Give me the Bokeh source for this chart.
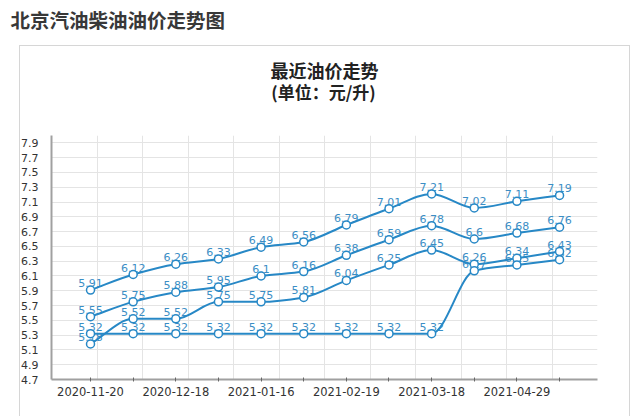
from bokeh.plotting import figure
from bokeh.models import Range1d, FixedTicker, ColumnDataSource, InlineStyleSheet
from bokeh.embed import file_html
from bokeh.resources import INLINE
from bokeh.core.properties import value

# ---- data ----
dates = ["2020-11-20", "2020-12-04", "2020-12-18", "2020-12-31", "2021-01-16", "2021-01-29",
         "2021-02-19", "2021-03-04", "2021-03-18", "2021-04-01", "2021-04-29", "2021-05-14"]
price_95 = [5.91, 6.12, 6.26, 6.33, 6.49, 6.56, 6.79, 7.01, 7.21, 7.02, 7.11, 7.19]
price_92 = [5.55, 5.75, 5.88, 5.95, 6.1, 6.16, 6.38, 6.59, 6.78, 6.6, 6.68, 6.76]
price_diesel = [5.18, 5.52, 5.52, 5.75, 5.75, 5.81, 6.04, 6.25, 6.45, 6.26, 6.34, 6.43]
price_89 = [5.32, 5.32, 5.32, 5.32, 5.32, 5.32, 5.32, 5.32, 5.32, 6.17, 6.25, 6.32]
y_ticks = [4.7, 4.9, 5.1, 5.3, 5.5, 5.7, 5.9, 6.1, 6.3, 6.5, 6.7, 6.9, 7.1, 7.3, 7.5, 7.7, 7.9]
series = [price_95, price_92, price_diesel, price_89]

header_text = "北京汽油柴油油价走势图"
title_text = "最近油价走势"
subtitle_text = "(单位：元/升)"

LINE = "#2788c6"
LABEL = "#3b8ec5"
CJK = "Noto Sans CJK SC"

idx = list(range(len(dates)))

css_top = InlineStyleSheet(css="""
:host { position: relative; }
:host::after { content: ''; position: absolute; left: 19px; top: 45px; width: 611px; height: 95px;
  border: 1px solid #d6d6d6; border-bottom: none; box-sizing: border-box; pointer-events: none; }
""")
css_main = InlineStyleSheet(css="""
:host { position: relative; }
:host::after { content: ''; position: absolute; left: 19px; top: 0px; width: 611px; height: 290px;
  border: 1px solid #d6d6d6; border-top: none; border-bottom: none; box-sizing: border-box; pointer-events: none; }
""")

# ---- header figure (titles) ----
top = figure(width=640, height=135, output_backend="svg", toolbar_location=None,
             x_range=Range1d(0, 640), y_range=Range1d(135, 0),
             x_axis_type=None, y_axis_type=None,
             min_border_left=0, min_border_right=0, min_border_top=0, min_border_bottom=0,
             stylesheets=[css_top])
top.outline_line_color = None
top.grid.visible = False
top.background_fill_color = "white"
top.border_fill_color = "white"
top.text(x=[10], y=[18.5], text=[header_text], text_align="left", text_baseline="middle",
         text_font=value(CJK), text_font_style="bold", text_font_size="19.5px", text_color="#383838")
top.text(x=[324], y=[69.5], text=[title_text], text_align="center", text_baseline="middle",
         text_font=value(CJK), text_font_style="bold", text_font_size="18px", text_color="#222222")
top.text(x=[323], y=[90.5], text=[subtitle_text], text_align="center", text_baseline="middle",
         text_font=value(CJK), text_font_style="bold", text_font_size="17px", text_color="#222222")

# ---- main chart ----
x0, x1 = -0.915, 11.89
p = figure(width=640, height=281, output_backend="svg", toolbar_location=None,
           x_range=Range1d(x0, x1), y_range=Range1d(4.7, 8.0),
           min_border_left=51, min_border_right=43, min_border_top=0, min_border_bottom=37,
           stylesheets=[css_main])
p.outline_line_color = None
p.background_fill_color = "white"
p.border_fill_color = "white"

p.xaxis.ticker = FixedTicker(ticks=idx)
p.xaxis.major_label_overrides = {i: (d if i % 2 == 0 else "") for i, d in enumerate(dates)}
p.yaxis.ticker = FixedTicker(ticks=y_ticks)
p.yaxis.major_label_overrides = {t: f"{t:.1f}" for t in y_ticks}
for ax in (p.xaxis, p.yaxis):
    ax.axis_line_color = "#a0a0a0"
    ax.axis_line_width = 2
    ax.minor_tick_line_color = None
    ax.major_label_text_font = "DejaVu Sans"
    ax.major_label_text_color = "#333333"
p.xaxis.major_label_text_font_size = "11.5px"
p.yaxis.major_label_text_font_size = "11px"
p.xaxis.major_tick_in = 2
p.xaxis.major_tick_out = 2
p.xaxis.major_tick_line_color = "#666666"
p.xaxis.major_label_standoff = 5
p.yaxis.major_tick_line_color = None
p.yaxis.major_label_standoff = 7

p.xgrid.ticker = FixedTicker(ticks=[x0 + k * (x1 - x0) / 12 for k in range(1, 12)])
p.ygrid.ticker = FixedTicker(ticks=y_ticks[1:])
p.xgrid.grid_line_color = "#e4e4e4"
p.ygrid.grid_line_color = "#e4e4e4"


def tangents(y):
    n = len(y)
    d = [y[i + 1] - y[i] for i in range(n - 1)]
    m = [0.0] * n
    m[0] = d[0]
    m[-1] = d[-1]
    for i in range(1, n - 1):
        if d[i - 1] * d[i] <= 0:
            m[i] = 0.0
        else:
            m[i] = 2 * d[i - 1] * d[i] / (d[i - 1] + d[i])
    return m


# labels first (under lines and markers)
for s in series:
    p.text(x=idx, y=s, text=[f"{v:g}" for v in s], text_align="center", text_baseline="alphabetic",
           y_offset=-7, text_font=value("DejaVu Sans"), text_font_size="11px", text_color=LABEL)

for s in series:
    m = tangents(s)
    src = ColumnDataSource(dict(
        x0=idx[:-1], y0=s[:-1], x1=idx[1:], y1=s[1:],
        cx0=[i + 1 / 3 for i in idx[:-1]], cy0=[s[i] + m[i] / 3 for i in idx[:-1]],
        cx1=[i + 2 / 3 for i in idx[:-1]], cy1=[s[i + 1] - m[i + 1] / 3 for i in idx[:-1]],
    ))
    p.bezier(x0="x0", y0="y0", x1="x1", y1="y1", cx0="cx0", cy0="cy0", cx1="cx1", cy1="cy1",
             source=src, line_color=LINE, line_width=2)

for s in series:
    p.scatter(x=idx, y=s, size=8, marker="circle", fill_color="white", line_color=LINE, line_width=1.5)

open("out.html", "w").write(file_html([top, p], INLINE))
